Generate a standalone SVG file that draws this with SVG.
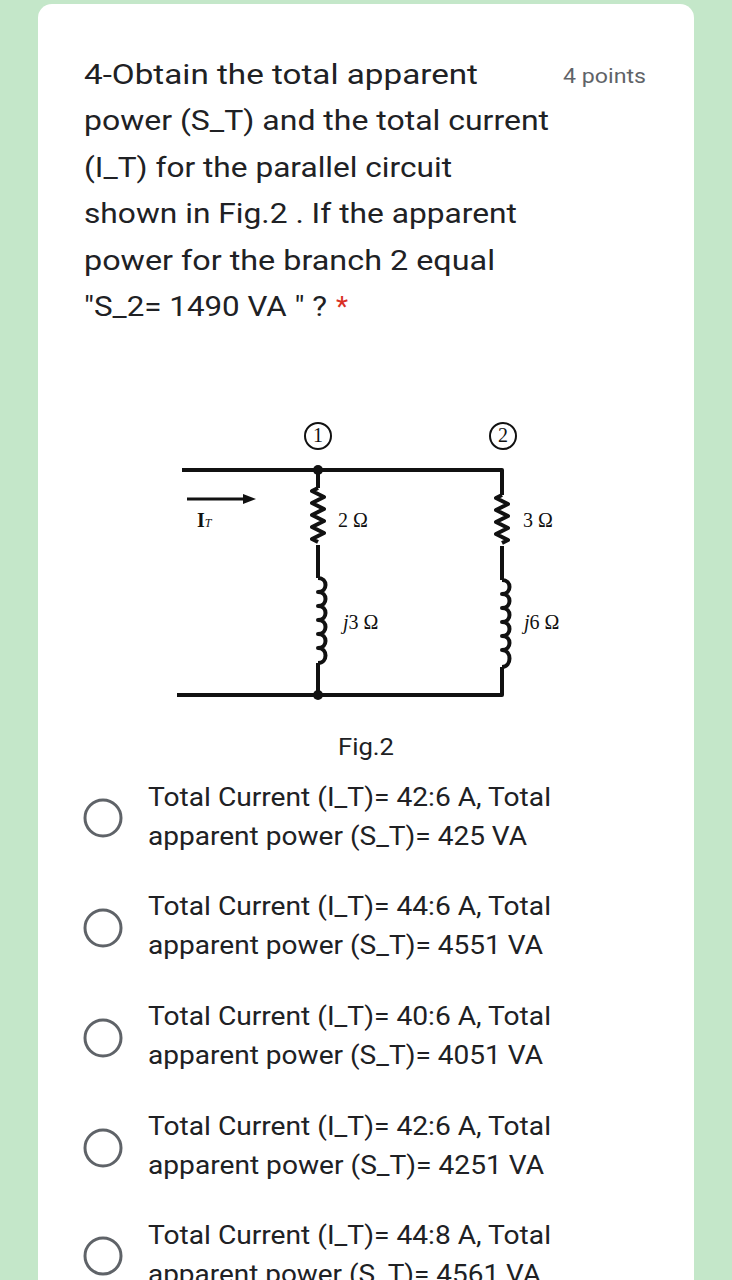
<svg xmlns="http://www.w3.org/2000/svg" width="732" height="1280" viewBox="0 0 732 1280">
<style>
.q{font-family:Roboto,"Liberation Sans",sans-serif;font-size:28px;fill:#202124}
.o{font-family:Roboto,"Liberation Sans",sans-serif;font-size:25px;fill:#202124}
.c{font-family:"Liberation Serif",serif;font-size:20px;fill:#111}
.w{stroke:#111;stroke-width:4;fill:none;stroke-linejoin:round}
.r{fill:none;stroke:#5f6368;stroke-width:3}
</style>
<rect width="732" height="1280" fill="#c4e7c9"/>
<rect x="38" y="4" width="656" height="1300" rx="14" fill="#fff"/>
<g id="question">
<text class="q" x="84" y="84" textLength="394" lengthAdjust="spacingAndGlyphs">4-Obtain the total apparent</text>
<text class="q" x="84" y="130" textLength="465" lengthAdjust="spacingAndGlyphs">power (S_T) and the total current</text>
<text class="q" x="84" y="177" textLength="368" lengthAdjust="spacingAndGlyphs">(I_T) for the parallel circuit</text>
<text class="q" x="84" y="223" textLength="433" lengthAdjust="spacingAndGlyphs">shown in Fig.2 . If the apparent</text>
<text class="q" x="84" y="270" textLength="411" lengthAdjust="spacingAndGlyphs">power for the branch 2 equal</text>
<text class="q" x="84" y="316" textLength="243" lengthAdjust="spacingAndGlyphs">"S_2= 1490 VA " ?</text>
<text class="q" x="336" y="316" style="fill:#d93025">*</text>
<text x="563" y="83" font-family="Roboto,'Liberation Sans',sans-serif" font-size="21" fill="#5f6368" textLength="83" lengthAdjust="spacingAndGlyphs">4 points</text>
</g>
<g id="circuit">
<path class="w" d="M182 470H502V495M177 695H502V667M318 470V488M318 545V578M318 663V695M502 546V580"/>
<path class="w" stroke-width="3.5" d="M318 488l-6 3l12 6l-12 6l12 6l-12 6l12 6l-12 6l12 6l-12 6l6 3"/>
<path class="w" stroke-width="3.5" d="M502 495l-6 3l12 6l-12 6l12 6l-12 6l12 6l-12 6l12 6l-6 3"/>
<path class="w" stroke-width="3.5" d="M318 578c10 0 10 14 0 14c10 0 10 14 0 14c10 0 10 14 0 14c10 0 10 14 0 14c10 0 10 14 0 14c10 0 10 15 0 15"/>
<path class="w" stroke-width="3.5" d="M502 580c10 0 10 14 0 14c10 0 10 14 0 14c10 0 10 14 0 14c10 0 10 14 0 14c10 0 10 14 0 14c10 0 10 17 0 17"/>
<circle cx="318" cy="470" r="5" fill="#111"/>
<circle cx="318" cy="695" r="5" fill="#111"/>
<circle cx="318" cy="436" r="13" fill="none" stroke="#111" stroke-width="2"/>
<circle cx="503" cy="436" r="13" fill="none" stroke="#111" stroke-width="2"/>
<text class="c" x="318" y="442" text-anchor="middle" font-size="17">1</text>
<text class="c" x="503" y="442" text-anchor="middle" font-size="17">2</text>
<path d="M187 499H245" stroke="#111" stroke-width="3"/>
<path d="M256 499l-13 -5v10z" fill="#111"/>
<text class="c" x="197" y="527" font-weight="bold">I<tspan font-size="12" font-style="italic" font-weight="normal">T</tspan></text>
<text class="c" x="338" y="527">2 Ω</text>
<text class="c" x="523" y="527">3 Ω</text>
<text class="c" x="343" y="629"><tspan font-style="italic">j</tspan>3 Ω</text>
<text class="c" x="524" y="629"><tspan font-style="italic">j</tspan>6 Ω</text>
<text x="366" y="755" text-anchor="middle" font-family="Roboto,'Liberation Sans',sans-serif" font-size="23" fill="#202124" textLength="56" lengthAdjust="spacingAndGlyphs">Fig.2</text>
</g>
<g id="options">
<circle class="r" cx="103" cy="818" r="18"/>
<text class="o" x="148" y="806" textLength="403" lengthAdjust="spacingAndGlyphs">Total Current (I_T)= 42:6 A, Total</text>
<text class="o" x="148" y="845" textLength="379" lengthAdjust="spacingAndGlyphs">apparent power (S_T)= 425 VA</text>
<circle class="r" cx="103" cy="928" r="18"/>
<text class="o" x="148" y="915" textLength="403" lengthAdjust="spacingAndGlyphs">Total Current (I_T)= 44:6 A, Total</text>
<text class="o" x="148" y="954" textLength="395" lengthAdjust="spacingAndGlyphs">apparent power (S_T)= 4551 VA</text>
<circle class="r" cx="103" cy="1038" r="18"/>
<text class="o" x="148" y="1025" textLength="403" lengthAdjust="spacingAndGlyphs">Total Current (I_T)= 40:6 A, Total</text>
<text class="o" x="148" y="1064" textLength="395" lengthAdjust="spacingAndGlyphs">apparent power (S_T)= 4051 VA</text>
<circle class="r" cx="103" cy="1148" r="18"/>
<text class="o" x="148" y="1135" textLength="403" lengthAdjust="spacingAndGlyphs">Total Current (I_T)= 42:6 A, Total</text>
<text class="o" x="148" y="1174" textLength="396" lengthAdjust="spacingAndGlyphs">apparent power (S_T)= 4251 VA</text>
<circle class="r" cx="103" cy="1256" r="18"/>
<text class="o" x="148" y="1244" textLength="403" lengthAdjust="spacingAndGlyphs">Total Current (I_T)= 44:8 A, Total</text>
<text class="o" x="148" y="1283" textLength="393" lengthAdjust="spacingAndGlyphs">apparent power (S_T)= 4561 VA</text>
</g>
</svg>
